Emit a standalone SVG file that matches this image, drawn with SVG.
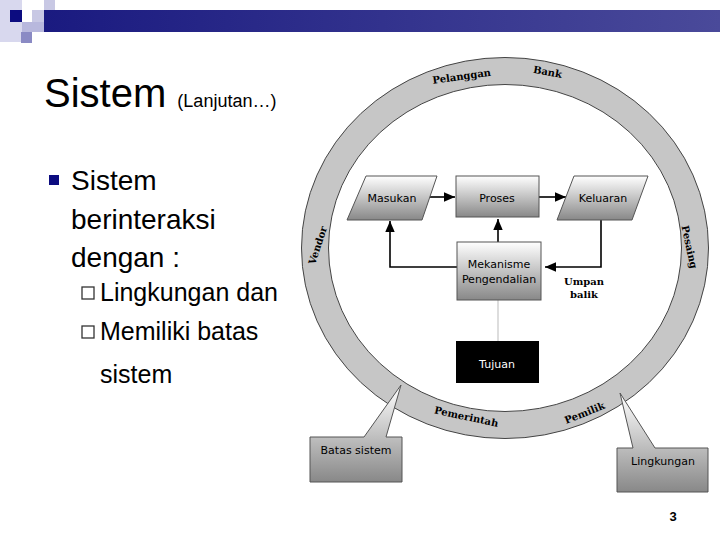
<svg xmlns="http://www.w3.org/2000/svg" width="720" height="540" viewBox="0 0 720 540">
<defs>
<linearGradient id="g" x1="0" y1="0" x2="0" y2="1"><stop offset="0" stop-color="#fff"/><stop offset="1" stop-color="#888"/></linearGradient>
<linearGradient id="bar" x1="0" y1="0" x2="1" y2="0"><stop offset="0" stop-color="#1a1a80"/><stop offset="1" stop-color="#4a4a9a"/></linearGradient>
<marker id="a" markerWidth="8" markerHeight="8" refX="7" refY="4" orient="auto"><path d="M0,1 L7,4 L0,7z" fill="#000"/></marker>
<path id="arcTop" d="M330,248 A175,163 0 0 1 680,248"/>
<path id="arcBot" d="M315,248 A190,178 0 0 0 695,248"/>
</defs>
<style>
.h{font-family:"Liberation Sans",Arial,sans-serif}
.c{font-family:"DejaVu Sans",sans-serif;font-size:11px;text-anchor:middle}
.r{font-family:"DejaVu Serif",serif;font-size:10px;font-weight:bold}
.n{stroke:#555;stroke-width:1;fill:url(#g)}
</style>
<g id="deco">
<rect x="44" y="10" width="676" height="22" fill="url(#bar)"/>
<rect x="0" y="0" width="22" height="42" fill="#d8d8ee"/>
<rect x="10" y="10" width="12" height="12" fill="#0c0c80"/>
<rect x="22" y="22" width="22" height="10" fill="#b8b8dd"/>
<rect x="32" y="10" width="12" height="12" fill="#c8c8e4"/>
<rect x="44" y="0" width="11" height="10" fill="#c8c8e4"/>
<rect x="21" y="32" width="11" height="11" fill="#8a8ac4"/>
</g>
<g id="title">
<text x="44" y="107" class="h" font-size="40">Sistem <tspan font-size="18">(Lanjutan…)</tspan></text>
<path d="M49,175 h10 v10 h-10z" fill="#0c0c80"/>
<text class="h" font-size="28"><tspan x="71" y="190">Sistem</tspan><tspan x="71" y="229">berinteraksi</tspan><tspan x="71" y="267">dengan :</tspan></text>
<rect x="82" y="287" width="12" height="12" fill="none" stroke="#333" stroke-width="1.3"/>
<rect x="82" y="326" width="12" height="12" fill="none" stroke="#333" stroke-width="1.3"/>
<text class="h" font-size="25"><tspan x="100" y="301">Lingkungan dan</tspan><tspan x="100" y="340">Memiliki batas</tspan><tspan x="100" y="383">sistem</tspan></text>
</g>
<g id="ring">
<ellipse cx="505" cy="248" rx="190" ry="177" fill="none" stroke="#c6c6c6" stroke-width="27"/>
<ellipse cx="505" cy="248" rx="203.5" ry="190.5" fill="none" stroke="#444" stroke-width="1"/>
<ellipse cx="505" cy="248" rx="176.5" ry="163.5" fill="none" stroke="#444" stroke-width="1"/>
<text class="r" transform="rotate(-8 460 75)" x="432" y="80">Pelanggan</text>
<text class="r" transform="rotate(10 545 72)" x="533" y="75">Bank</text>
<text class="r" transform="rotate(-72 318 243)" x="296" y="247">Vendor</text>
<text class="r" transform="rotate(78 690 247)" x="668" y="251">Pesaing</text>
<text class="r" transform="rotate(12 465 420)" x="433" y="420">Pemerintah</text>
<text class="r" font-size="12" transform="rotate(-22 590 408)" x="562" y="414">Pemilik</text>
</g>
<g id="connectors" stroke="#000" stroke-width="1.6" fill="none">
<line x1="429" y1="197" x2="455" y2="197" marker-end="url(#a)"/>
<line x1="539" y1="197" x2="566" y2="197" marker-end="url(#a)"/>
<line x1="498" y1="242" x2="498" y2="219" marker-end="url(#a)"/>
<polyline points="457,267 390,267 390,221" marker-end="url(#a)"/>
<polyline points="601,220 601,267 545,267" marker-end="url(#a)"/>
<line x1="498" y1="300" x2="498" y2="341" stroke="#bbb" stroke-width="1"/>
</g>
<g id="masukan"><polygon class="n" points="366,176 437,176 422,220 347,220"/><text class="c" x="392" y="202">Masukan</text></g>
<g id="proses"><rect class="n" x="456" y="176" width="83" height="41"/><text class="c" x="497" y="202">Proses</text></g>
<g id="keluaran"><polygon class="n" points="574,176 648,176 632,220 557,220"/><text class="c" x="603" y="202">Keluaran</text></g>
<g id="mekanisme"><rect class="n" x="457" y="242" width="84" height="58"/><text class="c" x="499" y="268">Mekanisme</text><text class="c" x="499" y="283">Pengendalian</text></g>
<g id="umpan"><text class="r" text-anchor="middle" x="584" y="285">Umpan</text><text class="r" text-anchor="middle" x="584" y="298">balik</text></g>
<g id="tujuan"><rect x="456" y="341" width="83" height="42" fill="#000"/><text class="c" x="497" y="368" fill="#fff">Tujuan</text></g>
<g id="batas"><path class="n" d="M310,437 H364 L401,385 L386,437 H402 V482 H310z"/><text class="c" x="356" y="454">Batas sistem</text></g>
<g id="lingkungan"><path class="n" d="M617,448 H633 L620,393 L655,448 H708 V492 H617z"/><text class="c" x="663" y="465">Lingkungan</text></g>
<text x="673" y="521" class="h" font-size="13" font-weight="bold" text-anchor="middle">3</text>
</svg>
